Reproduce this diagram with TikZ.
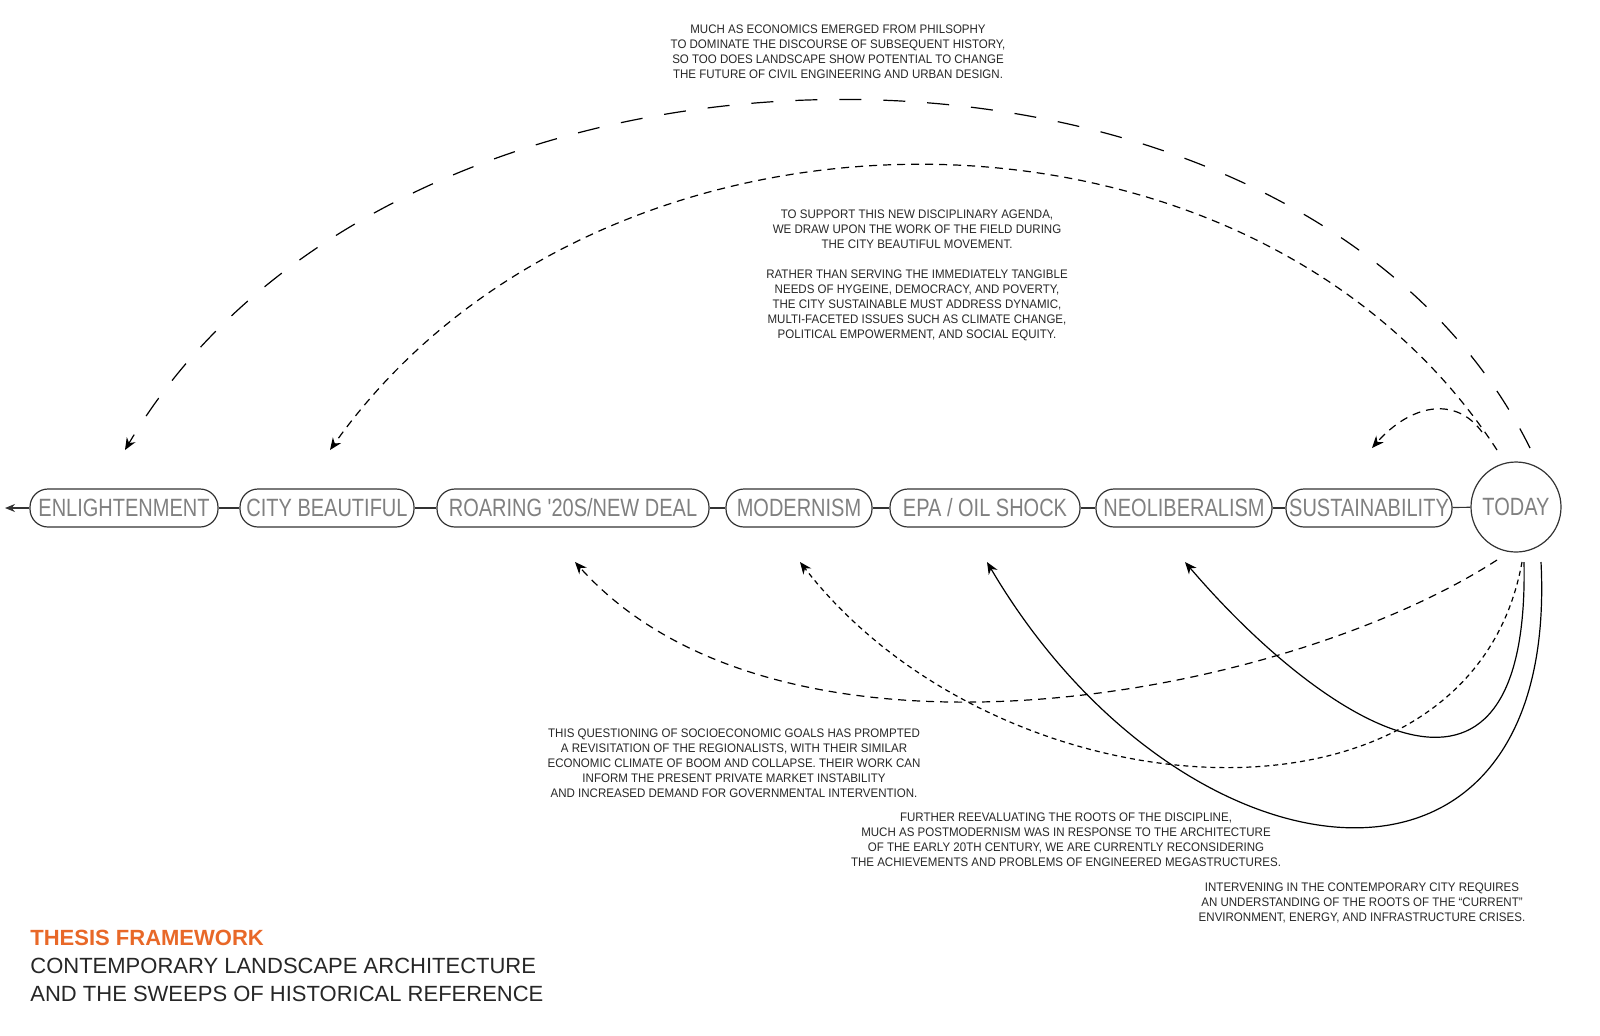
\documentclass[tikz,border=0pt]{standalone}
\usepackage{fontspec}
\setmainfont{Liberation Sans}
\newfontfamily\narrowf[FakeStretch=0.8]{Liberation Sans}
\newfontfamily\parf[FakeStretch=0.93]{Liberation Sans}
\usetikzlibrary{arrows.meta}
\definecolor{orng}{RGB}{232,104,40}
\definecolor{txt}{RGB}{40,40,40}
\begin{document}
\begin{tikzpicture}[x=0.5pt,y=-0.5pt,
 era/.style={draw=black!80,line width=0.6pt,rounded corners=9pt,minimum height=19pt,inner xsep=1pt,text=black!50,font=\narrowf\fontsize{12.5}{13}\selectfont},
 para/.style={align=center,text=txt,font=\parf\fontsize{6.2}{7.5}\selectfont},
 link/.style={draw=black!80,line width=0.6pt},
 arc/.style={line width=0.6pt,-{Stealth[length=6pt,width=5pt]}},
 longdash/.style={dash pattern=on 11pt off 11pt},
 middash/.style={dash pattern=on 4pt off 3pt},
 shortdash/.style={dash pattern=on 2.5pt off 2pt}]
\useasboundingbox (0,0) rectangle (1600,1035);
\node[era,minimum width=94pt] (en) at (124,508) {ENLIGHTENMENT};
\node[era,minimum width=87pt] (cb) at (327,508) {CITY BEAUTIFUL};
\node[era,minimum width=136pt] (rd) at (573,508) {ROARING '20S/NEW DEAL};
\node[era,minimum width=73pt] (mo) at (799,508) {MODERNISM};
\node[era,minimum width=95pt] (ep) at (985,508) {EPA / OIL SHOCK};
\node[era,minimum width=88pt] (ne) at (1184,508) {NEOLIBERALISM};
\node[era,minimum width=83pt] (su) at (1369,508) {SUSTAINABILITY};
\node[era,circle,rounded corners=0pt,minimum size=45pt,inner sep=0pt] (td) at (1516,507) {TODAY};
\coordinate (lend) at (5,508);
\draw[link] (td) -- (su); \draw[link] (su) -- (ne); \draw[link] (ne) -- (ep);
\draw[link] (ep) -- (mo); \draw[link] (mo) -- (rd); \draw[link] (rd) -- (cb);
\draw[link] (cb) -- (en);
\draw[link,-{Stealth[length=5pt,width=4pt]}] (en) -- (lend);
% arcs above
\coordinate (a1s) at (1530,448); \coordinate (a1e) at (125,450);
\coordinate (a2s) at (1497,450); \coordinate (a2e) at (330,450);
\coordinate (a3s) at (1482,432); \coordinate (a3e) at (1372,448);
\draw[arc,longdash] (a1s) .. controls (1300,-16) and (400,-16) .. (a1e);
\draw[arc,middash] (a2s) .. controls (1250,70) and (600,70) .. (a2e);
\draw[arc,middash] (a3s) .. controls (1455,395) and (1410,405) .. (a3e);
% arcs below
\coordinate (b1s) at (1497,560); \coordinate (b1e) at (575,562);
\coordinate (b2s) at (1522,562); \coordinate (b2e) at (800,562);
\coordinate (b3s) at (1524,562); \coordinate (b3e) at (1185,562);
\coordinate (b4s) at (1541,562); \coordinate (b4e) at (987,562);
\draw[arc,middash] (b1s) .. controls (1280,700) and (780,790) .. (b1e);
\draw[arc,shortdash] (b2s) .. controls (1470,850) and (1000,820) .. (b2e);
\draw[arc] (b3s) .. controls (1530,860) and (1320,720) .. (b3e);
\draw[arc] (b4s) .. controls (1560,940) and (1180,890) .. (b4e);
% texts
\node[para] (t1) at (838,52) {MUCH AS ECONOMICS EMERGED FROM PHILSOPHY\\TO DOMINATE THE DISCOURSE OF SUBSEQUENT HISTORY,\\SO TOO DOES LANDSCAPE SHOW POTENTIAL TO CHANGE\\THE FUTURE OF CIVIL ENGINEERING AND URBAN DESIGN.};
\node[para] (t2) at (917,229) {TO SUPPORT THIS NEW DISCIPLINARY AGENDA,\\WE DRAW UPON THE WORK OF THE FIELD DURING\\THE CITY BEAUTIFUL MOVEMENT.};
\node[para] (t3) at (917,305) {RATHER THAN SERVING THE IMMEDIATELY TANGIBLE\\NEEDS OF HYGEINE, DEMOCRACY, AND POVERTY,\\THE CITY SUSTAINABLE MUST ADDRESS DYNAMIC,\\MULTI-FACETED ISSUES SUCH AS  CLIMATE CHANGE,\\POLITICAL EMPOWERMENT, AND SOCIAL EQUITY.};
\node[para] (t4) at (734,763) {THIS QUESTIONING OF SOCIOECONOMIC GOALS HAS PROMPTED\\A REVISITATION OF THE REGIONALISTS, WITH THEIR SIMILAR\\ECONOMIC CLIMATE OF BOOM AND COLLAPSE.  THEIR WORK CAN\\INFORM THE PRESENT PRIVATE MARKET INSTABILITY\\AND INCREASED DEMAND FOR GOVERNMENTAL INTERVENTION.};
\node[para] (t5) at (1066,840) {FURTHER REEVALUATING THE ROOTS OF THE DISCIPLINE,\\MUCH AS POSTMODERNISM WAS IN RESPONSE TO THE ARCHITECTURE\\OF THE EARLY 20TH CENTURY, WE ARE CURRENTLY RECONSIDERING\\THE ACHIEVEMENTS AND PROBLEMS OF ENGINEERED MEGASTRUCTURES.};
\node[para] (t6) at (1362,903) {INTERVENING IN THE CONTEMPORARY CITY REQUIRES\\AN UNDERSTANDING OF THE ROOTS OF THE “CURRENT”\\ENVIRONMENT, ENERGY, AND INFRASTRUCTURE CRISES.};
\node[anchor=north west,inner sep=0pt,align=left,font=\fontsize{11}{14}\selectfont,text=black!85] (ttl) at (30,930) {\textcolor{orng}{\textbf{THESIS FRAMEWORK}}\\CONTEMPORARY LANDSCAPE ARCHITECTURE\\AND THE SWEEPS OF HISTORICAL REFERENCE};
\end{tikzpicture}
\end{document}
